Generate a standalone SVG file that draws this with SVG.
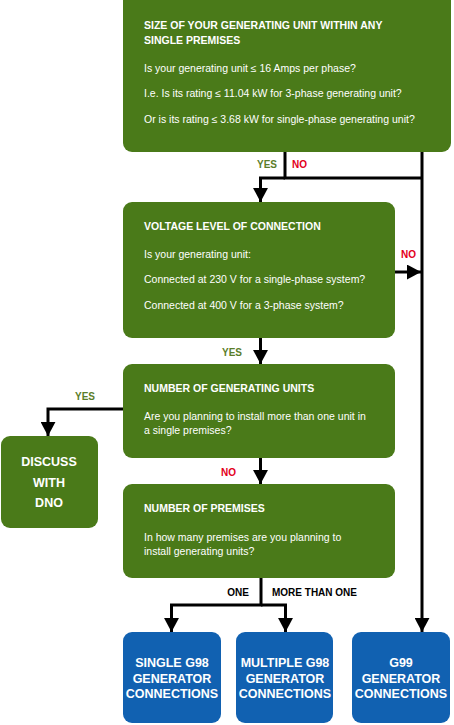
<svg xmlns="http://www.w3.org/2000/svg" width="454" height="725" viewBox="0 0 454 725">
<defs>
<style>
.g{fill:#4a7a19}
.b{fill:#1161b1}
.t{font-family:"Liberation Sans",Arial,sans-serif;font-weight:bold;font-size:10.5px;fill:#fff}
.p{font-family:"Liberation Sans",Arial,sans-serif;font-size:10.5px;fill:#fff}
.c{font-family:"Liberation Sans",Arial,sans-serif;font-weight:bold;font-size:12.5px;fill:#fff;text-anchor:middle}
.ln{fill:none;stroke:#000;stroke-width:3}
.yes{font-family:"Liberation Sans",Arial,sans-serif;font-weight:bold;font-size:10px;fill:#5a7d2a}
.no{font-family:"Liberation Sans",Arial,sans-serif;font-weight:bold;font-size:10px;fill:#e3001b}
.lb{font-family:"Liberation Sans",Arial,sans-serif;font-weight:bold;font-size:10px;fill:#000}
</style>
<marker id="ah" viewBox="0 0 10 10" refX="9.4" refY="5" markerWidth="5" markerHeight="5" markerUnits="strokeWidth" orient="auto">
<path d="M0,0 L9.4,5 L0,10 z" fill="#000"/>
</marker>
</defs>
<g id="connectors">
<path class="ln" d="M285,152 V178 H422"/>
<path class="ln" d="M422,152 V632" marker-end="url(#ah)"/>
<path class="ln" d="M285,178 H260.5 V202" marker-end="url(#ah)"/>
<path class="ln" d="M395,272 H421" marker-end="url(#ah)"/>
<path class="ln" d="M260.5,338 V364" marker-end="url(#ah)"/>
<path class="ln" d="M123,409 H48 V436" marker-end="url(#ah)"/>
<path class="ln" d="M260.5,458 V484" marker-end="url(#ah)"/>
<path class="ln" d="M261,578 V605 H171.5 V632" marker-end="url(#ah)"/>
<path class="ln" d="M261,605 H285.5 V632" marker-end="url(#ah)"/>
<text class="yes" x="277" y="168" text-anchor="end">YES</text>
<text class="no" x="292" y="168">NO</text>
<text class="no" x="401" y="258">NO</text>
<text class="yes" x="242" y="356" text-anchor="end">YES</text>
<text class="yes" x="95" y="400" text-anchor="end">YES</text>
<text class="no" x="221" y="476">NO</text>
<text class="lb" x="249" y="596" text-anchor="end">ONE</text>
<text class="lb" x="272" y="596">MORE THAN ONE</text>
</g>
<g id="size">
<rect class="g" x="123" y="-8" width="328" height="160" rx="9"/>
<text class="t" x="144" y="29">SIZE OF YOUR GENERATING UNIT WITHIN ANY</text>
<text class="t" x="144" y="44">SINGLE PREMISES</text>
<text class="p" x="144" y="72">Is your generating unit ≤ 16 Amps per phase?</text>
<text class="p" x="144" y="97">I.e. Is its rating ≤ 11.04 kW for 3-phase generating unit?</text>
<text class="p" x="144" y="123">Or is its rating ≤ 3.68 kW for single-phase generating unit?</text>
</g>
<g id="voltage">
<rect class="g" x="123" y="202" width="272" height="136" rx="9"/>
<text class="t" x="144" y="230">VOLTAGE LEVEL OF CONNECTION</text>
<text class="p" x="144" y="258">Is your generating unit:</text>
<text class="p" x="144" y="283">Connected at 230 V for a single-phase system?</text>
<text class="p" x="144" y="309">Connected at 400 V for a 3-phase system?</text>
</g>
<g id="units">
<rect class="g" x="123" y="364" width="272" height="94" rx="9"/>
<text class="t" x="144" y="392">NUMBER OF GENERATING UNITS</text>
<text class="p" x="144" y="420">Are you planning to install more than one unit in</text>
<text class="p" x="144" y="434">a single premises?</text>
</g>
<g id="premises">
<rect class="g" x="123" y="484" width="272" height="94" rx="9"/>
<text class="t" x="144" y="512">NUMBER OF PREMISES</text>
<text class="p" x="144" y="541">In how many premises are you planning to</text>
<text class="p" x="144" y="555">install generating units?</text>
</g>
<g id="dno">
<rect class="g" x="1" y="436" width="97" height="92" rx="9"/>
<text class="c" x="49" y="466">DISCUSS</text>
<text class="c" x="49" y="487">WITH</text>
<text class="c" x="49" y="507">DNO</text>
</g>
<g id="single">
<rect class="b" x="123" y="632" width="98" height="91" rx="9"/>
<text class="c" x="172" y="667">SINGLE G98</text>
<text class="c" x="172" y="683">GENERATOR</text>
<text class="c" x="172" y="698">CONNECTIONS</text>
</g>
<g id="multiple">
<rect class="b" x="236" y="632" width="97" height="91" rx="9"/>
<text class="c" x="285" y="667">MULTIPLE G98</text>
<text class="c" x="285" y="683">GENERATOR</text>
<text class="c" x="285" y="698">CONNECTIONS</text>
</g>
<g id="g99">
<rect class="b" x="352" y="632" width="98" height="91" rx="9"/>
<text class="c" x="401" y="667">G99</text>
<text class="c" x="401" y="683">GENERATOR</text>
<text class="c" x="401" y="698">CONNECTIONS</text>
</g>
</svg>
